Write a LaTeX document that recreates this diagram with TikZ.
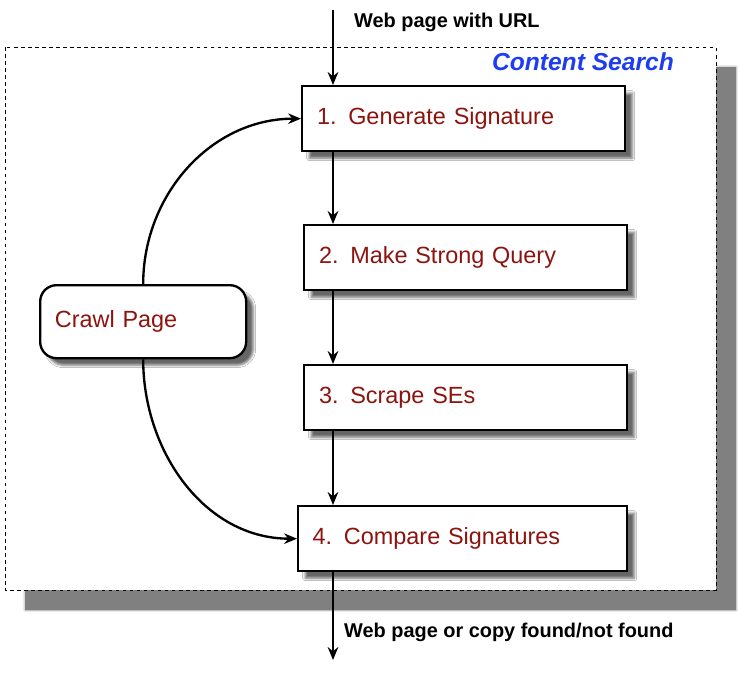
\documentclass[tikz,border=0pt]{standalone}
\usepackage{fontspec}
\setmainfont{Liberation Sans}
\usetikzlibrary{positioning,shadows.blur,arrows.meta}
\definecolor{stepred}{RGB}{140,20,15}
\definecolor{titleblue}{RGB}{30,60,240}
\tikzset{
  stepbox/.style={draw, line width=2pt, fill=white, minimum width=9.69cm, minimum height=1.95cm,
    text=stepred, font=\fontsize{20}{24}\selectfont, anchor=north west, inner xsep=12pt,
    blur shadow={shadow xshift=6pt, shadow yshift=-6pt, shadow opacity=60}},
  flow/.style={-{Stealth[length=11pt,width=9pt]}, line width=2pt},
  lbl/.style={font=\bfseries\fontsize{17}{20}\selectfont, anchor=west}
}
\begin{document}
\begin{tikzpicture}[x=0.03cm, y=-0.03cm]
\useasboundingbox (0,0) rectangle (749,693);

% outer frame
\fill[black!50, blur shadow={shadow xshift=0pt, shadow yshift=0pt}] (25,67) rectangle (736,610);
\draw[dashed, fill=white] (5,47) rectangle (716,590);
\node[font=\bfseries\itshape\fontsize{21}{25}\selectfont, text=titleblue, anchor=east] (title) at (678,62) {Content Search};

% steps
\node[stepbox, text width=8.8cm] (gen) at (301,85) {1. Generate Signature};
\node[stepbox, text width=8.8cm] (query) at (303,224) {2. Make Strong Query};
\node[stepbox, text width=8.8cm] (scrape) at (303,364) {3. Scrape SEs};
\node[stepbox, text width=9.0cm, minimum width=9.87cm] (cmp) at (297,505) {4. Compare Signatures};

\node[draw, line width=2pt, rounded corners=14pt, fill=white, minimum width=6.18cm, minimum height=2.19cm,
  text=stepred, font=\fontsize{20}{24}\selectfont, text width=5.3cm, inner xsep=12pt, anchor=north west,
  blur shadow={shadow xshift=6pt, shadow yshift=-6pt, shadow opacity=60}] (crawl) at (39,284) {Crawl Page};

% inputs and outputs
\coordinate (in) at (333,10);
\coordinate (out) at (333,660);
\node[lbl] (inlbl) at (350,22) {Web page with URL};
\node[lbl] (outlbl) at (340,632) {Web page or copy found/not found};

\draw[flow] (in) -- (in |- gen.north);
\draw[flow] (gen.south -| in) -- (query.north -| in);
\draw[flow] (query.south -| in) -- (scrape.north -| in);
\draw[flow] (scrape.south -| in) -- (cmp.north -| in);
\draw[flow] (cmp.south -| in) -- (out);

\draw[flow] (crawl.north) to[out=90, in=180] (gen.west);
\draw[flow] (crawl.south) to[out=-90, in=180] (cmp.west);
\end{tikzpicture}
\end{document}
